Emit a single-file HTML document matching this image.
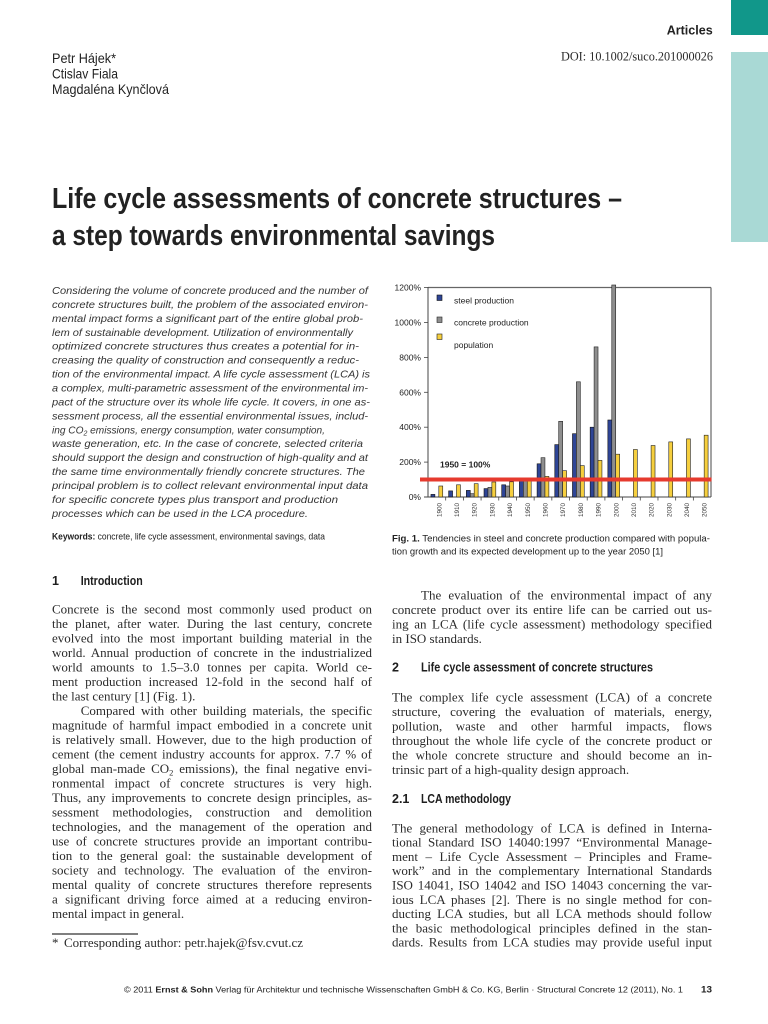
<!DOCTYPE html>
<html><head><meta charset="utf-8"><style>
html,body{margin:0;padding:0;background:#fff;}
svg{display:block;}
.b{font-family:"Liberation Serif",serif;font-size:13px;fill:#2b2b2b;}
.a{font-family:"Liberation Sans",sans-serif;font-size:10.2px;font-style:italic;fill:#333;}
.s{font-family:"Liberation Sans",sans-serif;fill:#222;}
.h{font-family:"Liberation Sans",sans-serif;font-weight:bold;font-size:12.5px;fill:#1e1e1e;}
.c{font-family:"Liberation Sans",sans-serif;font-size:8.5px;fill:#222;}
.x{font-family:"Liberation Sans",sans-serif;font-size:6.3px;fill:#333;}
.st{fill:#2e4596;stroke:#111;stroke-width:0.6;}
.co{fill:#8e8e8e;stroke:#222;stroke-width:0.6;}
.po{fill:#f6cf3e;stroke:#222;stroke-width:0.6;}
</style></head><body>
<svg id="pg" width="768" height="1024" viewBox="0 0 768 1024" xmlns="http://www.w3.org/2000/svg">
<rect width="768" height="1024" fill="#fff"/>
<rect x="731" y="0" width="37" height="35" fill="#11978a"/>
<rect x="731" y="52" width="37" height="190" fill="#a9d9d5"/>

<text class="s" x="666.7" y="34.3" font-size="13" font-weight="bold" textLength="46" lengthAdjust="spacingAndGlyphs">Articles</text>
<text class="b" x="561" y="60.7" font-size="11.5" textLength="152" lengthAdjust="spacingAndGlyphs">DOI: 10.1002/suco.201000026</text>
<text class="s" x="52" y="63" font-size="14" textLength="64" lengthAdjust="spacingAndGlyphs">Petr Hájek*</text>
<text class="s" x="52" y="78.5" font-size="14" textLength="66" lengthAdjust="spacingAndGlyphs">Ctislav Fiala</text>
<text class="s" x="52" y="94" font-size="14" textLength="117" lengthAdjust="spacingAndGlyphs">Magdaléna Kynčlová</text>

<text class="s" x="52" y="208" font-size="29" font-weight="bold" fill="#1a1a1a" textLength="570" lengthAdjust="spacingAndGlyphs">Life cycle assessments of concrete structures –</text>
<text class="s" x="52" y="245" font-size="29" font-weight="bold" fill="#1a1a1a" textLength="443" lengthAdjust="spacingAndGlyphs">a step towards environmental savings</text>

<g class="a">
<text x="52" y="294" textLength="316" lengthAdjust="spacingAndGlyphs">Considering the volume of concrete produced and the number of</text>
<text x="52" y="307.9" textLength="316" lengthAdjust="spacingAndGlyphs">concrete structures built, the problem of the associated environ-</text>
<text x="52" y="321.9" textLength="311" lengthAdjust="spacingAndGlyphs">mental impact forms a significant part of the entire global prob-</text>
<text x="52" y="335.8" textLength="301" lengthAdjust="spacingAndGlyphs">lem of sustainable development. Utilization of environmentally</text>
<text x="52" y="349.7" textLength="307" lengthAdjust="spacingAndGlyphs">optimized concrete structures thus creates a potential for in-</text>
<text x="52" y="363.7" textLength="307" lengthAdjust="spacingAndGlyphs">creasing the quality of construction and consequently a reduc-</text>
<text x="52" y="377.6" textLength="318" lengthAdjust="spacingAndGlyphs">tion of the environmental impact. A life cycle assessment (LCA) is</text>
<text x="52" y="391.5" textLength="316" lengthAdjust="spacingAndGlyphs">a complex, multi-parametric assessment of the environmental im-</text>
<text x="52" y="405.4" textLength="318" lengthAdjust="spacingAndGlyphs">pact of the structure over its whole life cycle. It covers, in one as-</text>
<text x="52" y="419.4" textLength="316" lengthAdjust="spacingAndGlyphs">sessment process, all the essential environmental issues, includ-</text>
<text x="52" y="433.3" textLength="273" lengthAdjust="spacingAndGlyphs">ing CO<tspan font-size="7" dy="2">2</tspan><tspan dy="-2"> emissions, energy consumption, water consumption,</tspan></text>
<text x="52" y="447.2" textLength="311" lengthAdjust="spacingAndGlyphs">waste generation, etc. In the case of concrete, selected criteria</text>
<text x="52" y="461.2" textLength="316" lengthAdjust="spacingAndGlyphs">should support the design and construction of high-quality and at</text>
<text x="52" y="475.1" textLength="313" lengthAdjust="spacingAndGlyphs">the same time environmentally friendly concrete structures. The</text>
<text x="52" y="489" textLength="316" lengthAdjust="spacingAndGlyphs">principal problem is to collect relevant environmental input data</text>
<text x="52" y="503" textLength="286" lengthAdjust="spacingAndGlyphs">for specific concrete types plus transport and production</text>
<text x="52" y="516.9" textLength="256" lengthAdjust="spacingAndGlyphs">processes which can be used in the LCA procedure.</text>
</g>
<text class="s" x="52" y="539.5" font-size="9.5" textLength="273" lengthAdjust="spacingAndGlyphs"><tspan font-weight="bold">Keywords:</tspan> concrete, life cycle assessment, environmental savings, data</text>

<!-- Chart -->
<g>
<line x1="428" y1="287.5" x2="711" y2="287.5" stroke="#666" stroke-width="1.2"/>
<line x1="711" y1="287.5" x2="711" y2="497" stroke="#666" stroke-width="1.2"/>
<line x1="428" y1="287" x2="428" y2="497" stroke="#444" stroke-width="1"/>
<line x1="424" y1="497" x2="711" y2="497" stroke="#444" stroke-width="1"/>
<g stroke="#444" stroke-width="0.8">
<line x1="424" y1="287.6" x2="428" y2="287.6"/>
<line x1="424" y1="322.5" x2="428" y2="322.5"/>
<line x1="424" y1="357.4" x2="428" y2="357.4"/>
<line x1="424" y1="392.3" x2="428" y2="392.3"/>
<line x1="424" y1="427.2" x2="428" y2="427.2"/>
<line x1="424" y1="462.1" x2="428" y2="462.1"/>
</g>
<g class="c" text-anchor="end">
<text x="421" y="290.6">1200%</text>
<text x="421" y="325.5">1000%</text>
<text x="421" y="360.4">800%</text>
<text x="421" y="395.3">600%</text>
<text x="421" y="430.2">400%</text>
<text x="421" y="465.1">200%</text>
<text x="421" y="500">0%</text>
</g>
<g stroke="#444" stroke-width="0.8">
<line x1="445.69" y1="497" x2="445.69" y2="500.5"/>
<line x1="463.38" y1="497" x2="463.38" y2="500.5"/>
<line x1="481.07" y1="497" x2="481.07" y2="500.5"/>
<line x1="498.76" y1="497" x2="498.76" y2="500.5"/>
<line x1="516.45" y1="497" x2="516.45" y2="500.5"/>
<line x1="534.14" y1="497" x2="534.14" y2="500.5"/>
<line x1="551.83" y1="497" x2="551.83" y2="500.5"/>
<line x1="569.52" y1="497" x2="569.52" y2="500.5"/>
<line x1="587.21" y1="497" x2="587.21" y2="500.5"/>
<line x1="604.9" y1="497" x2="604.9" y2="500.5"/>
<line x1="622.59" y1="497" x2="622.59" y2="500.5"/>
<line x1="640.28" y1="497" x2="640.28" y2="500.5"/>
<line x1="657.97" y1="497" x2="657.97" y2="500.5"/>
<line x1="675.66" y1="497" x2="675.66" y2="500.5"/>
<line x1="693.35" y1="497" x2="693.35" y2="500.5"/>
</g>
<g transform="translate(428,0)"><rect class="st" x="2.95" y="494.4" width="3.93" height="2.6"/><rect class="po" x="10.81" y="486" width="3.93" height="11"/></g>
<g transform="translate(445.69,0)"><rect class="st" x="2.95" y="490.9" width="3.93" height="6.1"/><rect class="po" x="10.81" y="484.8" width="3.93" height="12.2"/></g>
<g transform="translate(463.38,0)"><rect class="st" x="2.95" y="490.4" width="3.93" height="6.6"/><rect class="co" x="6.88" y="493.7" width="3.93" height="3.3"/><rect class="po" x="10.81" y="483.7" width="3.93" height="13.3"/></g>
<g transform="translate(481.07,0)"><rect class="st" x="2.95" y="488.6" width="3.93" height="8.4"/><rect class="co" x="6.88" y="487.4" width="3.93" height="9.6"/><rect class="po" x="10.81" y="482" width="3.93" height="15"/></g>
<g transform="translate(498.76,0)"><rect class="st" x="2.95" y="484.8" width="3.93" height="12.2"/><rect class="co" x="6.88" y="486" width="3.93" height="11"/><rect class="po" x="10.81" y="481.8" width="3.93" height="15.2"/></g>
<g transform="translate(516.45,0)"><rect class="st" x="2.95" y="479.55" width="3.93" height="17.45"/><rect class="co" x="6.88" y="479.55" width="3.93" height="17.45"/><rect class="po" x="10.81" y="479.55" width="3.93" height="17.45"/></g>
<g transform="translate(534.14,0)"><rect class="st" x="2.95" y="463.8" width="3.93" height="33.2"/><rect class="co" x="6.88" y="457.7" width="3.93" height="39.3"/><rect class="po" x="10.81" y="476.4" width="3.93" height="20.6"/></g>
<g transform="translate(551.83,0)"><rect class="st" x="2.95" y="444.6" width="3.93" height="52.4"/><rect class="co" x="6.88" y="421.3" width="3.93" height="75.7"/><rect class="po" x="10.81" y="470.7" width="3.93" height="26.3"/></g>
<g transform="translate(569.52,0)"><rect class="st" x="2.95" y="433.7" width="3.93" height="63.3"/><rect class="co" x="6.88" y="381.8" width="3.93" height="115.2"/><rect class="po" x="10.81" y="465.6" width="3.93" height="31.4"/></g>
<g transform="translate(587.21,0)"><rect class="st" x="2.95" y="427.2" width="3.93" height="69.8"/><rect class="co" x="6.88" y="346.9" width="3.93" height="150.1"/><rect class="po" x="10.81" y="460.4" width="3.93" height="36.6"/></g>
<g transform="translate(604.9,0)"><rect class="st" x="2.95" y="420" width="3.93" height="77"/><rect class="co" x="6.88" y="285" width="3.93" height="212"/><rect class="po" x="10.81" y="454.2" width="3.93" height="42.8"/></g>
<g transform="translate(622.59,0)"><rect class="po" x="10.81" y="449.5" width="3.93" height="47.5"/></g>
<g transform="translate(640.28,0)"><rect class="po" x="10.81" y="445.5" width="3.93" height="51.5"/></g>
<g transform="translate(657.97,0)"><rect class="po" x="10.81" y="441.9" width="3.93" height="55.1"/></g>
<g transform="translate(675.66,0)"><rect class="po" x="10.81" y="438.9" width="3.93" height="58.1"/></g>
<g transform="translate(693.35,0)"><rect class="po" x="10.81" y="435.2" width="3.93" height="61.8"/></g>
<rect x="420" y="477.5" width="291.5" height="4" fill="#e63a2e"/>
<rect class="st" x="437" y="295" width="5" height="5.5"/>
<rect class="co" x="437" y="317" width="5" height="5.5"/>
<rect class="po" x="437" y="334" width="5" height="5.5"/>
<text class="c" x="454" y="303.5">steel production</text>
<text class="c" x="454" y="325.5">concrete production</text>
<text class="c" x="454" y="348">population</text>
<text class="c" x="440" y="467.3" font-weight="bold">1950 = 100%</text>
<g class="x">
<text transform="translate(439.15,517) rotate(-90)" y="2.2">1900</text>
<text transform="translate(456.84,517) rotate(-90)" y="2.2">1910</text>
<text transform="translate(474.53,517) rotate(-90)" y="2.2">1920</text>
<text transform="translate(492.22,517) rotate(-90)" y="2.2">1930</text>
<text transform="translate(509.91,517) rotate(-90)" y="2.2">1940</text>
<text transform="translate(527.6,517) rotate(-90)" y="2.2">1950</text>
<text transform="translate(545.29,517) rotate(-90)" y="2.2">1960</text>
<text transform="translate(562.98,517) rotate(-90)" y="2.2">1970</text>
<text transform="translate(580.67,517) rotate(-90)" y="2.2">1980</text>
<text transform="translate(598.36,517) rotate(-90)" y="2.2">1990</text>
<text transform="translate(616.05,517) rotate(-90)" y="2.2">2000</text>
<text transform="translate(633.74,517) rotate(-90)" y="2.2">2010</text>
<text transform="translate(651.43,517) rotate(-90)" y="2.2">2020</text>
<text transform="translate(669.12,517) rotate(-90)" y="2.2">2030</text>
<text transform="translate(686.81,517) rotate(-90)" y="2.2">2040</text>
<text transform="translate(704.5,517) rotate(-90)" y="2.2">2050</text>
</g>
</g>

<text class="s" x="392" y="541.3" font-size="9" textLength="318" lengthAdjust="spacingAndGlyphs"><tspan font-weight="bold">Fig. 1.</tspan>  Tendencies in steel and concrete production compared with popula-</text>
<text class="s" x="392" y="554.3" font-size="9" textLength="271" lengthAdjust="spacingAndGlyphs">tion growth and its expected development up to the year 2050 [1]</text>

<!-- Left column -->
<text class="h" x="52" y="585">1</text>
<text class="h" x="80.7" y="585" textLength="62" lengthAdjust="spacingAndGlyphs">Introduction</text>
<g class="b">
<text class="j" x="52" y="613.3" textLength="320" lengthAdjust="spacingAndGlyphs">Concrete is the second most commonly used product on</text>
<text class="j" x="52" y="627.8" textLength="320" lengthAdjust="spacingAndGlyphs">the planet, after water. During the last century, concrete</text>
<text class="j" x="52" y="642.3" textLength="320" lengthAdjust="spacingAndGlyphs">evolved into the most important building material in the</text>
<text class="j" x="52" y="656.8" textLength="320" lengthAdjust="spacingAndGlyphs">world. Annual production of concrete in the industrialized</text>
<text class="j" x="52" y="671.3" textLength="320" lengthAdjust="spacingAndGlyphs">world amounts to 1.5–3.0 tonnes per capita. World ce-</text>
<text class="j" x="52" y="685.8" textLength="320" lengthAdjust="spacingAndGlyphs">ment production increased 12-fold in the second half of</text>
<text x="52" y="700.3">the last century [1] (Fig. 1).</text>
<text class="j" x="80.7" y="714.8" textLength="291.3" lengthAdjust="spacingAndGlyphs">Compared with other building materials, the specific</text>
<text class="j" x="52" y="729.3" textLength="320" lengthAdjust="spacingAndGlyphs">magnitude of harmful impact embodied in a concrete unit</text>
<text class="j" x="52" y="743.8" textLength="320" lengthAdjust="spacingAndGlyphs">is relatively small. However, due to the high production of</text>
<text class="j" x="52" y="758.3" textLength="320" lengthAdjust="spacingAndGlyphs">cement (the cement industry accounts for approx. 7.7 % of</text>
<text class="j" x="52" y="772.8" textLength="320" lengthAdjust="spacingAndGlyphs">global man-made CO<tspan font-size="8.5" dy="2.5">2</tspan><tspan dy="-2.5"> emissions), the final negative envi-</tspan></text>
<text class="j" x="52" y="787.3" textLength="320" lengthAdjust="spacingAndGlyphs">ronmental impact of concrete structures is very high.</text>
<text class="j" x="52" y="801.8" textLength="320" lengthAdjust="spacingAndGlyphs">Thus, any improvements to concrete design principles, as-</text>
<text class="j" x="52" y="816.3" textLength="320" lengthAdjust="spacingAndGlyphs">sessment methodologies, construction and demolition</text>
<text class="j" x="52" y="830.8" textLength="320" lengthAdjust="spacingAndGlyphs">technologies, and the management of the operation and</text>
<text class="j" x="52" y="845.3" textLength="320" lengthAdjust="spacingAndGlyphs">use of concrete structures provide an important contribu-</text>
<text class="j" x="52" y="859.8" textLength="320" lengthAdjust="spacingAndGlyphs">tion to the general goal: the sustainable development of</text>
<text class="j" x="52" y="874.3" textLength="320" lengthAdjust="spacingAndGlyphs">society and technology. The evaluation of the environ-</text>
<text class="j" x="52" y="888.8" textLength="320" lengthAdjust="spacingAndGlyphs">mental quality of concrete structures therefore represents</text>
<text class="j" x="52" y="903.3" textLength="320" lengthAdjust="spacingAndGlyphs">a significant driving force aimed at a reducing environ-</text>
<text x="52" y="917.8">mental impact in general.</text>
</g>
<line x1="52" y1="934" x2="138" y2="934" stroke="#333" stroke-width="1.2"/>
<text class="b" x="52" y="947" font-size="11">*</text>
<text class="b" x="64" y="947" font-size="11.5" textLength="239" lengthAdjust="spacingAndGlyphs">Corresponding author: petr.hajek@fsv.cvut.cz</text>

<!-- Right column -->
<g class="b">
<text class="j" x="421" y="599.5" textLength="291" lengthAdjust="spacingAndGlyphs">The evaluation of the environmental impact of any</text>
<text class="j" x="392" y="614" textLength="320" lengthAdjust="spacingAndGlyphs">concrete product over its entire life can be carried out us-</text>
<text class="j" x="392" y="628.5" textLength="320" lengthAdjust="spacingAndGlyphs">ing an LCA (life cycle assessment) methodology specified</text>
<text x="392" y="643">in ISO standards.</text>
</g>
<text class="h" x="392" y="671.5">2</text>
<text class="h" x="421" y="671.5" textLength="232" lengthAdjust="spacingAndGlyphs">Life cycle assessment of concrete structures</text>
<g class="b">
<text class="j" x="392" y="701.3" textLength="320" lengthAdjust="spacingAndGlyphs">The complex life cycle assessment (LCA) of a concrete</text>
<text class="j" x="392" y="715.8" textLength="320" lengthAdjust="spacingAndGlyphs">structure, covering the evaluation of materials, energy,</text>
<text class="j" x="392" y="730.3" textLength="320" lengthAdjust="spacingAndGlyphs">pollution, waste and other harmful impacts, flows</text>
<text class="j" x="392" y="744.8" textLength="320" lengthAdjust="spacingAndGlyphs">throughout the whole life cycle of the concrete product or</text>
<text class="j" x="392" y="759.3" textLength="320" lengthAdjust="spacingAndGlyphs">the whole concrete structure and should become an in-</text>
<text x="392" y="773.8">trinsic part of a high-quality design approach.</text>
</g>
<text class="h" x="392" y="803">2.1</text>
<text class="h" x="421" y="803" textLength="90" lengthAdjust="spacingAndGlyphs">LCA methodology</text>
<g class="b">
<text class="j" x="392" y="832.3" textLength="320" lengthAdjust="spacingAndGlyphs">The general methodology of LCA is defined in Interna-</text>
<text class="j" x="392" y="846.6" textLength="320" lengthAdjust="spacingAndGlyphs">tional Standard ISO 14040:1997 “Environmental Manage-</text>
<text class="j" x="392" y="860.9" textLength="320" lengthAdjust="spacingAndGlyphs">ment – Life Cycle Assessment – Principles and Frame-</text>
<text class="j" x="392" y="875.2" textLength="320" lengthAdjust="spacingAndGlyphs">work” and in the complementary International Standards</text>
<text class="j" x="392" y="889.5" textLength="320" lengthAdjust="spacingAndGlyphs">ISO 14041, ISO 14042 and ISO 14043 concerning the var-</text>
<text class="j" x="392" y="903.8" textLength="320" lengthAdjust="spacingAndGlyphs">ious LCA phases [2]. There is no single method for con-</text>
<text class="j" x="392" y="918.1" textLength="320" lengthAdjust="spacingAndGlyphs">ducting LCA studies, but all LCA methods should follow</text>
<text class="j" x="392" y="932.4" textLength="320" lengthAdjust="spacingAndGlyphs">the basic methodological principles defined in the stan-</text>
<text class="j" x="392" y="946.7" textLength="320" lengthAdjust="spacingAndGlyphs">dards. Results from LCA studies may provide useful input</text>
</g>

<text class="s" x="124" y="992.5" font-size="8.5" textLength="559" lengthAdjust="spacingAndGlyphs">© 2011 <tspan font-weight="bold">Ernst &amp; Sohn</tspan> Verlag für Architektur und technische Wissenschaften GmbH &amp; Co. KG, Berlin · Structural Concrete 12 (2011), No. 1</text>
<text class="s" x="701" y="992.5" font-size="9" font-weight="bold" textLength="11" lengthAdjust="spacingAndGlyphs">13</text>
</svg>
<script>
(function(){
  var ts=document.querySelectorAll('text.j');
  for(var i=0;i<ts.length;i++){
    var t=ts[i];
    try{
      var L=parseFloat(t.getAttribute('textLength'));
      t.removeAttribute('textLength');
      t.removeAttribute('lengthAdjust');
      var w=t.getComputedTextLength();
      var n=(t.textContent.match(/ /g)||[]).length;
      if(w<L && n>0){
        t.style.wordSpacing=((L-w)/n)+'px';
      }else{
        t.setAttribute('textLength',L);
        t.setAttribute('lengthAdjust','spacingAndGlyphs');
      }
    }catch(e){}
  }
})();
</script>
</body></html>
